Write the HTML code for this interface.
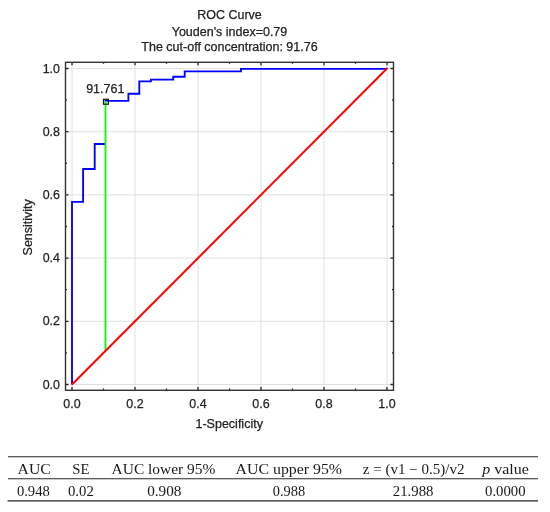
<!DOCTYPE html>
<html>
<head>
<meta charset="utf-8">
<style>
html,body{margin:0;padding:0;background:#fff;}
body{width:550px;height:512px;overflow:hidden;position:relative;}
svg{position:absolute;left:0;top:0;}
.s{font-family:"Liberation Sans",Arial,sans-serif;fill:#222;stroke:#222;stroke-width:0.25px;}
.t{font-family:"Liberation Serif","Times New Roman",serif;fill:#1a1a1a;}
</style>
</head>
<body>
<svg width="550" height="512" viewBox="0 0 550 512">
  <!-- titles -->
  <text class="s" x="229.5" y="19" font-size="12.5" text-anchor="middle">ROC Curve</text>
  <text class="s" x="229.5" y="35.7" font-size="12.5" text-anchor="middle">Youden's index=0.79</text>
  <text class="s" x="229.5" y="50.5" font-size="12.5" text-anchor="middle">The cut-off concentration: 91.76</text>

  <!-- grid -->
  <g stroke="#e0e0e0" stroke-width="1" fill="none">
    <line x1="72" y1="62" x2="72" y2="390"/>
    <line x1="135" y1="62" x2="135" y2="390"/>
    <line x1="198" y1="62" x2="198" y2="390"/>
    <line x1="261" y1="62" x2="261" y2="390"/>
    <line x1="324" y1="62" x2="324" y2="390"/>
    <line x1="387" y1="62" x2="387" y2="390"/>
    <line x1="65" y1="68.5" x2="393" y2="68.5"/>
    <line x1="65" y1="131.7" x2="393" y2="131.7"/>
    <line x1="65" y1="194.9" x2="393" y2="194.9"/>
    <line x1="65" y1="258.1" x2="393" y2="258.1"/>
    <line x1="65" y1="321.3" x2="393" y2="321.3"/>
    <line x1="65" y1="384.5" x2="393" y2="384.5"/>
  </g>

  <!-- ticks -->
  <g stroke="#222" stroke-width="1.3" fill="none">
    <!-- bottom major -->
    <path d="M72,390 v-3 M135,390 v-3 M198,390 v-3 M261,390 v-3 M324,390 v-3 M387,390 v-3"/>
    <path d="M103.5,390 v-1.5 M166.5,390 v-1.5 M229.5,390 v-1.5 M292.5,390 v-1.5 M355.5,390 v-1.5"/>
    <!-- top -->
    <path d="M72,62.3 v3 M135,62.3 v3 M198,62.3 v3 M261,62.3 v3 M324,62.3 v3 M387,62.3 v3"/>
    <path d="M103.5,62.3 v1.5 M166.5,62.3 v1.5 M229.5,62.3 v1.5 M292.5,62.3 v1.5 M355.5,62.3 v1.5"/>
    <!-- left -->
    <path d="M65.5,68.5 h3 M65.5,131.7 h3 M65.5,194.9 h3 M65.5,258.1 h3 M65.5,321.3 h3 M65.5,384.5 h3"/>
    <path d="M65.5,100.1 h1.5 M65.5,163.3 h1.5 M65.5,226.5 h1.5 M65.5,289.7 h1.5 M65.5,352.9 h1.5"/>
    <!-- right -->
    <path d="M393.5,68.5 h-3 M393.5,131.7 h-3 M393.5,194.9 h-3 M393.5,258.1 h-3 M393.5,321.3 h-3 M393.5,384.5 h-3"/>
    <path d="M393.5,100.1 h-1.5 M393.5,163.3 h-1.5 M393.5,226.5 h-1.5 M393.5,289.7 h-1.5 M393.5,352.9 h-1.5"/>
  </g>

  <!-- frame -->
  <rect x="65.5" y="62.3" width="328" height="328" fill="none" stroke="#333" stroke-width="1.4"/>

  <!-- ROC curve -->
  <path d="M72,384.5 V201.8 H83.1 V169 H94.7 V144 H105.5" fill="none" stroke="#0000ff" stroke-width="1.85"/>
  <path d="M104.6,100.8 H128.4 V93.7 H139.3 V81.3 H150.9 V79.6 H173.2 V76.7 H184.7 V71.4 H240.9 V68.8 H387" fill="none" stroke="#0000ff" stroke-width="1.85"/>

  <!-- cut-off line -->
  <line x1="105.5" y1="101" x2="105.5" y2="351" stroke="#00ff00" stroke-width="1.8"/>
    <!-- diagonal -->
  <line x1="72" y1="384.5" x2="387.5" y2="68" stroke="#ff0000" stroke-width="2"/>

  <rect x="103.5" y="99.3" width="4.9" height="4.9" fill="none" stroke="#111" stroke-width="1.2"/>
  <text class="s" x="105.3" y="92.8" font-size="12.5" text-anchor="middle">91.761</text>

  <!-- y tick labels -->
  <g class="s" font-size="13.2" text-anchor="end">
    <text x="60" y="72.5" textLength="17.3" lengthAdjust="spacingAndGlyphs">1.0</text>
    <text x="60" y="135.7" textLength="17.3" lengthAdjust="spacingAndGlyphs">0.8</text>
    <text x="60" y="198.9" textLength="17.3" lengthAdjust="spacingAndGlyphs">0.6</text>
    <text x="60" y="262.1" textLength="17.3" lengthAdjust="spacingAndGlyphs">0.4</text>
    <text x="60" y="325.3" textLength="17.3" lengthAdjust="spacingAndGlyphs">0.2</text>
    <text x="60" y="388.5" textLength="17.3" lengthAdjust="spacingAndGlyphs">0.0</text>
  </g>
  <!-- x tick labels -->
  <g class="s" font-size="13.2" text-anchor="middle">
    <text x="72" y="407.5" textLength="17.3" lengthAdjust="spacingAndGlyphs">0.0</text>
    <text x="135" y="407.5" textLength="17.3" lengthAdjust="spacingAndGlyphs">0.2</text>
    <text x="198" y="407.5" textLength="17.3" lengthAdjust="spacingAndGlyphs">0.4</text>
    <text x="261" y="407.5" textLength="17.3" lengthAdjust="spacingAndGlyphs">0.6</text>
    <text x="324" y="407.5" textLength="17.3" lengthAdjust="spacingAndGlyphs">0.8</text>
    <text x="387" y="407.5" textLength="17.3" lengthAdjust="spacingAndGlyphs">1.0</text>
  </g>
  <text class="s" x="229.2" y="428" font-size="12.5" text-anchor="middle">1-Specificity</text>
  <text class="s" font-size="12.5" text-anchor="middle" transform="translate(32,227.3) rotate(-90)">Sensitivity</text>

  <!-- table -->
  <g stroke="#262626" stroke-width="1.1">
    <line x1="8" y1="456.8" x2="538" y2="456.8"/>
    <line x1="8" y1="478.8" x2="538" y2="478.8"/>
    <line x1="7.5" y1="500.9" x2="538" y2="500.9"/>
  </g>
  <g class="t" font-size="14">
    <text x="17.60" y="474.3" textLength="33.10" lengthAdjust="spacingAndGlyphs">AUC</text>
    <text x="72.20" y="474.3" textLength="17.20" lengthAdjust="spacingAndGlyphs">SE</text>
    <text x="111.60" y="474.3" textLength="103.80" lengthAdjust="spacingAndGlyphs">AUC lower 95%</text>
    <text x="235.60" y="474.3" textLength="106.40" lengthAdjust="spacingAndGlyphs">AUC upper 95%</text>
    <text x="362.80" y="474.3" textLength="101.60" lengthAdjust="spacingAndGlyphs">z = (v1 − 0.5)/v2</text>
    <text x="482.20" y="474.3" textLength="46.60" lengthAdjust="spacingAndGlyphs"><tspan font-style="italic">p</tspan> value</text>
    <text x="16.90" y="495.7" textLength="32.90" lengthAdjust="spacingAndGlyphs">0.948</text>
    <text x="68.00" y="495.7" textLength="25.80" lengthAdjust="spacingAndGlyphs">0.02</text>
    <text x="147.20" y="495.7" textLength="34.20" lengthAdjust="spacingAndGlyphs">0.908</text>
    <text x="272.80" y="495.7" textLength="32.40" lengthAdjust="spacingAndGlyphs">0.988</text>
    <text x="392.80" y="495.7" textLength="40.60" lengthAdjust="spacingAndGlyphs">21.988</text>
    <text x="485.00" y="495.7" textLength="40.60" lengthAdjust="spacingAndGlyphs">0.0000</text>
  </g>
</svg>
</body>
</html>
